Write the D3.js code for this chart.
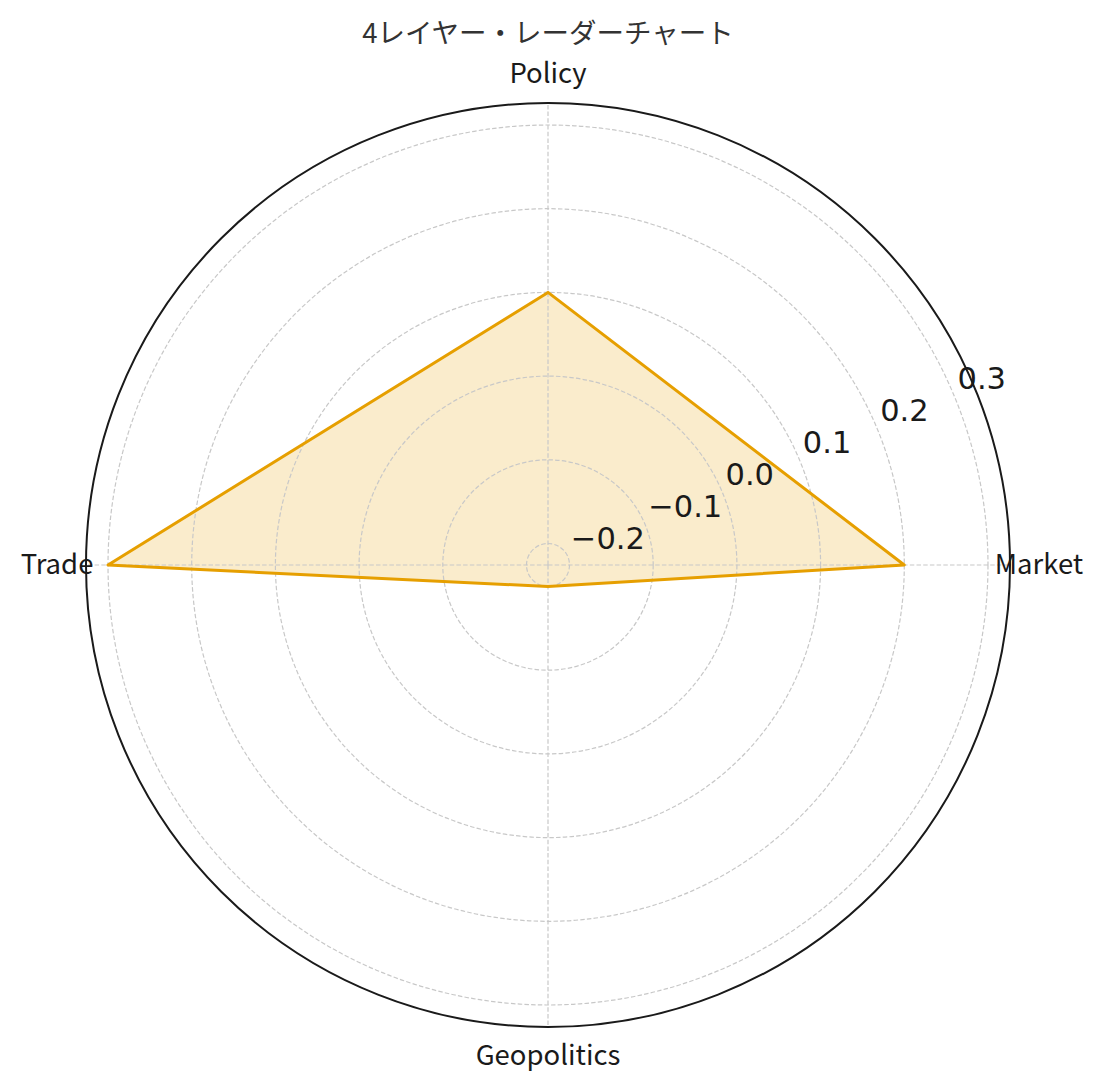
<html>
<head>
  <meta charset="utf-8">
  <title>4レイヤー・レーダーチャート</title>
  <style>
    html, body { margin: 0; padding: 0; background: #fff; }
    svg { display: block; }
  </style>
  <script src="https://d3js.org/d3.v7.js" charset="utf-8"></script>
</head>
<body>
<script>
  // data
  var categories = ["Market", "Policy", "Trade", "Geopolitics"];
  var values = [0.2, 0.1, 0.3, -0.2];
  var radialTicks = [-0.2, -0.1, 0.0, 0.1, 0.2, 0.3];
  var title = "4レイヤー・レーダーチャート";

  var width = 1105, height = 1092;
  var cx = 548, cy = 565, R = 462;

  var svg = d3.select("body").append("svg")
    .attr("width", width)
    .attr("height", height);

  // radial scale (matplotlib-like limits)
  var r = d3.scaleLinear().domain([-0.2257, 0.3263]).range([0, R]);
  // angle: category i sits at i*90deg counter-clockwise from east
  var angle = d3.scaleLinear().domain([0, categories.length]).range([0, 2 * Math.PI]);

  var g = svg.append("g").attr("transform", "translate(" + cx + "," + cy + ")");

  // fill under grid
  var radial = d3.lineRadial()
    .angle(function (d, i) { return Math.PI / 2 - angle(i); })
    .radius(function (d) { return r(d); })
    .curve(d3.curveLinearClosed);

  g.append("path")
    .attr("d", radial(values))
    .attr("fill", "#E69F00")
    .attr("fill-opacity", 0.2)
    .attr("stroke", "none");

  // grid circles
  g.selectAll("circle.grid")
    .data(radialTicks)
    .enter().append("circle")
    .attr("class", "grid")
    .attr("r", function (d) { return r(d); })
    .attr("fill", "none")
    .attr("stroke", "#c8c8c8")
    .attr("stroke-width", 1.2)
    .attr("stroke-dasharray", "4.5,2.2");

  // spokes
  g.selectAll("line.spoke")
    .data(categories)
    .enter().append("line")
    .attr("class", "spoke")
    .attr("x1", 0).attr("y1", 0)
    .attr("x2", function (d, i) { return R * Math.cos(angle(i)); })
    .attr("y2", function (d, i) { return -R * Math.sin(angle(i)); })
    .attr("stroke", "#c8c8c8")
    .attr("stroke-width", 1.2)
    .attr("stroke-dasharray", "4.5,2.2");

  // outer frame
  g.append("circle")
    .attr("r", R)
    .attr("fill", "none")
    .attr("stroke", "#1a1a1a")
    .attr("stroke-width", 2);

  // data line
  g.append("path")
    .attr("d", radial(values))
    .attr("fill", "none")
    .attr("stroke", "#E69F00")
    .attr("stroke-width", 3)
    .attr("stroke-linejoin", "round");

  // radial tick labels at 22.5deg
  var a = 22.5 * Math.PI / 180;
  g.selectAll("text.rtick")
    .data(radialTicks)
    .enter().append("text")
    .attr("class", "rtick")
    .attr("x", function (d) { return r(d) * Math.cos(a) + 3; })
    .attr("y", function (d) { return -r(d) * Math.sin(a) - 7.5; })
    .attr("font-family", "DejaVu Sans")
    .attr("font-size", 30.5)
    .attr("fill", "#1a1a1a")
    .text(function (d) { return d3.format(".1f")(d).replace("-", "\u2212"); });

  // category labels
  var labelR = 491;
  g.selectAll("text.cat")
    .data(categories)
    .enter().append("text")
    .attr("class", "cat")
    .attr("x", function (d, i) { return labelR * Math.cos(angle(i)); })
    .attr("y", function (d, i) { return -labelR * Math.sin(angle(i)) - 3; })
    .attr("text-anchor", "middle")
    .attr("dominant-baseline", "central")
    .attr("font-family", "Noto Sans CJK JP")
    .attr("font-size", 27.5)
    .attr("fill", "#1a1a1a")
    .text(function (d) { return d; });

  // title
  svg.append("text")
    .attr("x", cx)
    .attr("y", 43)
    .attr("text-anchor", "middle")
    .attr("font-family", "Noto Sans CJK JP")
    .attr("font-size", 27.5)
    .attr("fill", "#333")
    .text(title);
</script>
</body>
</html>
